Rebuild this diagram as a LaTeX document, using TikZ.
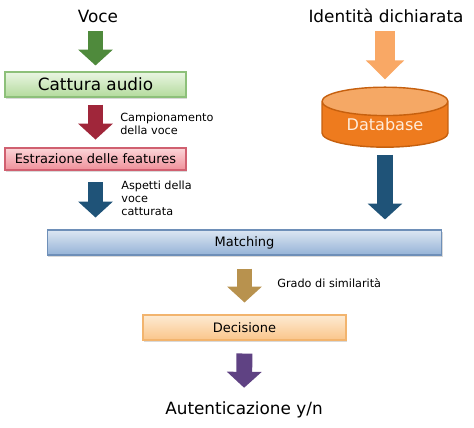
\documentclass[tikz,border=0pt]{standalone}
\usepackage{fontspec}
\setmainfont{DejaVu Sans}
\usepackage{tikz}
\usetikzlibrary{shapes.geometric}
\usetikzlibrary{shadows}
\usetikzlibrary{arrows.meta}
\usetikzlibrary{positioning}

\definecolor{vocegreen}{HTML}{4F8A3C}
\definecolor{capred}{HTML}{A0263A}
\definecolor{featblue}{HTML}{1F5378}
\definecolor{idorange}{HTML}{F9A865}
\definecolor{dbbody}{HTML}{EE7B1E}
\definecolor{dbtop}{HTML}{F5A865}
\definecolor{dbedge}{HTML}{C6600E}
\definecolor{simtan}{HTML}{B8924E}
\definecolor{decpurple}{HTML}{5F4283}
\definecolor{audiotop}{HTML}{EAF5E3}
\definecolor{audiobot}{HTML}{B3DB9C}
\definecolor{audioedge}{HTML}{8DC07A}
\definecolor{feattop}{HTML}{FBD5D8}
\definecolor{featbot}{HTML}{F0909A}
\definecolor{featedge}{HTML}{D06070}
\definecolor{matchtop}{HTML}{DCE6F2}
\definecolor{matchbot}{HTML}{95B3D7}
\definecolor{matchedge}{HTML}{6E8FB8}
\definecolor{dectop}{HTML}{FDEBD3}
\definecolor{decbot}{HTML}{FAC58A}
\definecolor{decedge}{HTML}{F2B46E}

\begin{document}
\begin{tikzpicture}[x = 0.02cm, y = -0.02cm,
	bigtext/.style = {inner sep = 0pt, font = \fontsize{9.6}{11}\selectfont},
	smalltext/.style = {inner sep = 0pt, anchor = west, align = left, font = \fontsize{6.4}{7.4}\selectfont},
	box/.style = {draw, line width = 0.6pt, inner sep = 0pt, drop shadow = {shadow xshift = 0.8pt, shadow yshift = -1pt, opacity = 0.3}},
	blockarrow/.style = {draw = #1, line width = 9.07pt, -{Triangle[length = 9.07pt, width = 19.3pt]}},
	widearrow/.style = {draw = #1, line width = 11.3pt, -{Triangle[length = 10.8pt, width = 21pt]}}]
	\useasboundingbox (0, 0) rectangle (474, 428);

	% Nodes
	\node[bigtext, anchor = base] (voce) at (98, 23) {Voce};
	\node[box, draw = audioedge, top color = audiotop, bottom color = audiobot,
		minimum width = 3.62cm, minimum height = 0.5cm, font = \fontsize{9.6}{11}\selectfont] (cattura) at (95.5, 84.5) {Cattura audio};
	\node[box, draw = featedge, top color = feattop, bottom color = featbot,
		minimum width = 3.62cm, minimum height = 0.44cm, font = \fontsize{7.4}{9}\selectfont] (estrazione) at (95.5, 159) {Estrazione delle features};
	\node[bigtext, anchor = base] (identita) at (386, 23) {Identità dichiarata};
	\node[cylinder, shape border rotate = 90, aspect = 0.37, draw = dbedge, line width = 0.8pt,
		cylinder uses custom fill, cylinder body fill = dbbody, cylinder end fill = dbtop,
		minimum width = 2.52cm, minimum height = 1.2cm, inner sep = 0pt,
		text = orange!15, font = \fontsize{9.15}{11}\selectfont, anchor = top] (db) at (385, 86.5) {Database};
	\node[box, draw = matchedge, top color = matchtop, bottom color = matchbot,
		minimum width = 7.9cm, minimum height = 0.5cm, font = \fontsize{7.4}{9}\selectfont] (matching) at (244.5, 242.5) {Matching};
	\node[box, draw = decedge, top color = dectop, bottom color = decbot,
		minimum width = 4.06cm, minimum height = 0.5cm, font = \fontsize{7.4}{9}\selectfont] (decisione) at (244.5, 327.5) {Decisione};
	\node[bigtext, anchor = base] (esito) at (244, 415) {Autenticazione y/n};

	% Labels
	\node[smalltext] (campion) at (120, 123.5) {Campionamento\\della voce};
	\node[smalltext] (aspetti) at (121, 198) {Aspetti della\\voce\\catturata};
	\node[smalltext] (grado) at (277, 283) {Grado di similarità};

	% Edges
	\draw[blockarrow = vocegreen, shorten <= 4.5pt, shorten >= 3.4pt] (voce.south -| cattura.north) to (cattura.north);
	\draw[blockarrow = capred, shorten <= 4pt, shorten >= 4.5pt] (cattura.south) to (estrazione.north);
	\draw[blockarrow = featblue, shorten <= 6.8pt, shorten >= 6.8pt] (estrazione.south) to (estrazione.south |- matching.north);
	\draw[widearrow = idorange, shorten <= 4.5pt, shorten >= 4pt] (identita.south -| db.top) to (db.top);
	\draw[blockarrow = featblue, shorten <= 4pt, shorten >= 5.7pt] (db.bottom) to (db.bottom |- matching.north);
	\draw[blockarrow = simtan, shorten <= 7.4pt, shorten >= 6.8pt] (matching.south) to (decisione.north);
	\draw[blockarrow = decpurple, shorten <= 7.4pt, shorten >= 8pt] (decisione.south) to (esito.north);
\end{tikzpicture}
\end{document}
